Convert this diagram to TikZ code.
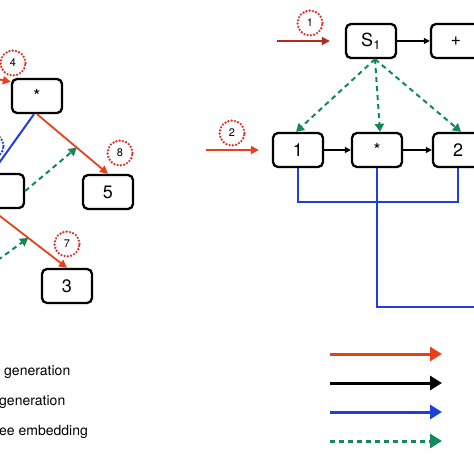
\documentclass[tikz,border=0pt]{standalone}
\usepackage{fontspec}
\setmainfont{TeX Gyre Heros}
\usepackage{tikz}
\usetikzlibrary{arrows.meta, calc, positioning}
\definecolor{genred}{HTML}{E8401C}
\definecolor{darkgen}{HTML}{B52A1C}
\definecolor{markred}{HTML}{D8362C}
\definecolor{treeblue}{HTML}{1F3FDC}
\definecolor{embgreen}{HTML}{13895A}

\begin{document}
\begin{tikzpicture}[x=1pt, y=-1pt,
    box/.style={draw, rounded corners=5pt, line width=2.3pt, minimum width=50pt, minimum height=34pt, inner sep=0pt, font=\fontsize{18}{18}\selectfont},
    stepmark/.style={circle, draw=markred, line width=2.6pt, dash pattern=on 0pt off 3.3pt, line cap=round, minimum size=25pt, inner sep=0pt, font=\fontsize{11}{11}\selectfont},
    gen/.style={genred, line width=1.8pt, -{Triangle[length=8pt,width=8pt]}},
    sib/.style={black, line width=1.5pt, -{Triangle[length=6pt,width=6pt]}},
    tree/.style={treeblue, line width=2pt},
    emb/.style={embgreen, line width=2pt, dash pattern=on 5pt off 4pt, -{Triangle[length=8pt,width=9pt]}}]
    \useasboundingbox (0,0) rectangle (474,474);
    % left tree (cut at the edge)
    \node[box] (star1) at (37,96) {*};
    \node[box] (leftbox) at (-1,191) {};
    \node[box] (five) at (108,192) {5};
    \node[box] (three) at (67,286) {3};
    \node[stepmark] (c4) at (13,63) {4};
    \node[stepmark] (c8) at (120,153) {8};
    \node[stepmark] (c7) at (67,244) {7};
    \node[stepmark, draw=treeblue] (cb) at (-9,146) {};
    \coordinate (in4) at (-12,77);
    \draw[gen] (in4) -- ([yshift=-4pt]star1.north west);
    \draw[gen] (star1.south) -- coordinate[pos=0.56] (m8) (five.north);
    \draw[gen] ([xshift=-8pt]leftbox.south) -- coordinate[pos=0.49] (m7) (three.north);
    \draw[tree] ([xshift=-3pt]star1.south) -- ([xshift=-7pt]leftbox.north);
    \coordinate (e7) at (-24,276);
    \draw[emb] (leftbox.east) -- (m8);
    \draw[emb] (e7) -- (m7);
    % right graph
    \node[box] (s1) at (371,41) {S\textsubscript{1}};
    \node[box] (plus) at (456,41) {+};
    \node[box] (one) at (298,150) {1};
    \node[box] (star2) at (377,150) {*};
    \node[box] (two) at (458,150) {2};
    \node[stepmark] (c1) at (310,23) {1};
    \node[stepmark] (c2) at (232,133) {2};
    \coordinate (in1) at (277,41);
    \coordinate (in2) at (206,150);
    \draw[gen, darkgen] (in1) -- ([xshift=-15pt]s1.west);
    \draw[gen] (in2) -- ([xshift=-13pt]one.west);
    \draw[sib] (s1) -- (plus);
    \draw[sib] (one) -- (star2);
    \draw[sib] (star2) -- (two);
    \foreach \t/\dx in {one/-2, star2/3, two/3} {
        \draw[emb] ([xshift=4pt]s1.south) -- ([xshift=\dx pt]\t.north);
    }
    \draw[tree] (one.south) -- ++(0,34) -| (two.south);
    \coordinate (out) at (480,307);
    \draw[tree] (star2.south) |- (out);
    % Legend
    \foreach \y/\s in {354/gen, 383/sib, 412/tree, 441/emb} {
        \coordinate (la\y) at (330,\y);
        \coordinate (lb\y) at (442,\y);
        \draw[\s, line width=3pt, -{Triangle[length=12pt,width=14pt]}] (la\y) -- (lb\y);
    }
    \node[anchor=base west, font=\fontsize{14}{14}\selectfont, inner sep=0pt] (lt1) at (4,375) {generation};
    \node[anchor=base west, font=\fontsize{14}{14}\selectfont, inner sep=0pt] (lt2) at (-1,405) {generation};
    \node[anchor=base west, font=\fontsize{14}{14}\selectfont, inner sep=0pt] (lt3) at (-1,435) {ee embedding};
\end{tikzpicture}
\end{document}
